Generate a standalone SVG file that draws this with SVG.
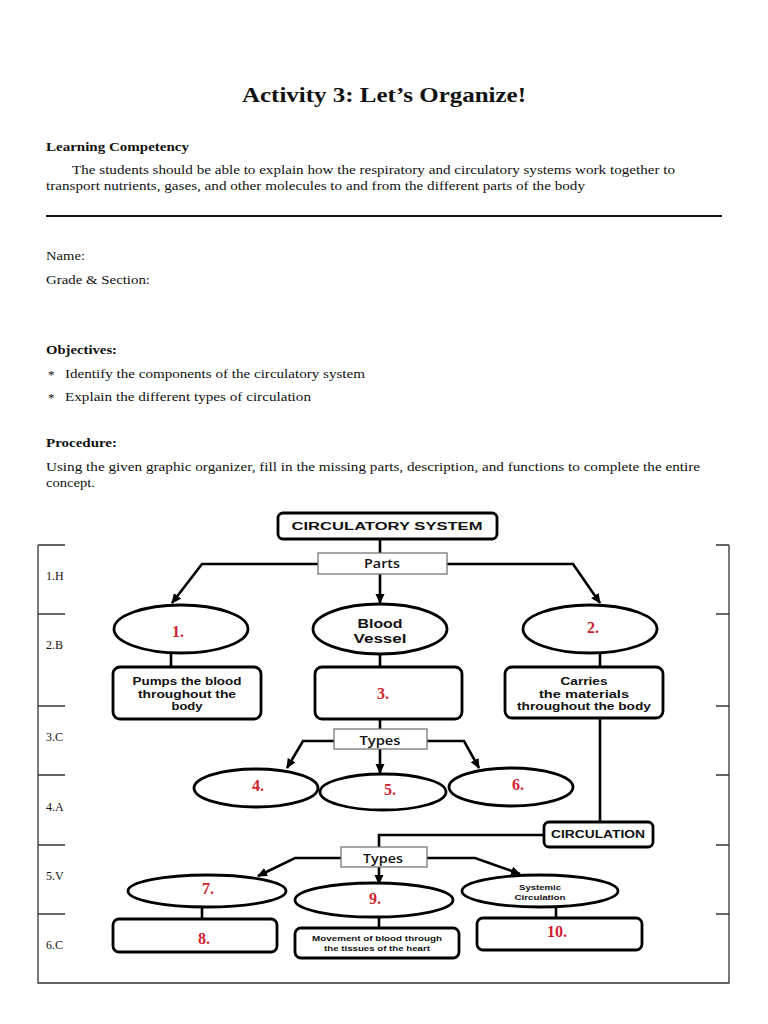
<svg xmlns="http://www.w3.org/2000/svg" width="768" height="1024" viewBox="0 0 768 1024">
<style>
.serif{font-family:"Liberation Serif","Times New Roman",serif;fill:#111}
.body{font-size:13px}
.b{font-weight:bold}
.sans{font-family:"Liberation Sans",Arial,sans-serif;fill:#111;font-weight:bold}
.lbl{font-family:"Open Sans","Liberation Sans",sans-serif;fill:#111;font-size:12px;font-weight:600}
.red{font-family:"Liberation Serif","Times New Roman",serif;fill:#d01f2e;font-weight:bold;font-size:16px}
.node{fill:#fff;stroke:#000;stroke-width:2.8}
.tag{fill:#fff;stroke:#777;stroke-width:1.3}
.conn{fill:none;stroke:#000;stroke-width:2.6}
.frame{fill:none;stroke:#333;stroke-width:1.3}
</style>
<defs>
<marker id="ah" markerUnits="userSpaceOnUse" markerWidth="10" markerHeight="10" viewBox="0 0 10 10" refX="9" refY="5" orient="auto">
<path d="M0,0.5 L10,5 L0,9.5 Z" fill="#000"/>
</marker>
</defs>
<rect x="0" y="0" width="768" height="1024" fill="#fff"/>

<g id="header">
<text class="serif b" x="384" y="102" font-size="21" text-anchor="middle" textLength="284" lengthAdjust="spacingAndGlyphs">Activity 3: Let’s Organize!</text>
<text class="serif body b" x="46" y="151" textLength="143" lengthAdjust="spacingAndGlyphs">Learning Competency</text>
<text class="serif body" x="72" y="174" textLength="603" lengthAdjust="spacingAndGlyphs">The students should be able to explain how the respiratory and circulatory systems work together to</text>
<text class="serif body" x="46" y="190" textLength="539" lengthAdjust="spacingAndGlyphs">transport nutrients, gases, and other molecules to and from the different parts of the body</text>
<line x1="46" y1="216" x2="722" y2="216" stroke="#111" stroke-width="2"/>
<text class="serif body" x="46" y="260" textLength="39" lengthAdjust="spacingAndGlyphs">Name:</text>
<text class="serif body" x="46" y="284" textLength="104" lengthAdjust="spacingAndGlyphs">Grade &amp; Section:</text>
<text class="serif body b" x="46" y="354" textLength="71" lengthAdjust="spacingAndGlyphs">Objectives:</text>
<text class="serif body" x="48" y="379" font-size="11">*</text>
<text class="serif body" x="65" y="378" textLength="300" lengthAdjust="spacingAndGlyphs">Identify the components of the circulatory system</text>
<text class="serif body" x="48" y="402" font-size="11">*</text>
<text class="serif body" x="65" y="401" textLength="246" lengthAdjust="spacingAndGlyphs">Explain the different types of circulation</text>
<text class="serif body b" x="46" y="447" textLength="71" lengthAdjust="spacingAndGlyphs">Procedure:</text>
<text class="serif body" x="46" y="471" textLength="654" lengthAdjust="spacingAndGlyphs">Using the given graphic organizer, fill in the missing parts, description, and functions to complete the entire</text>
<text class="serif body" x="46" y="487" textLength="49" lengthAdjust="spacingAndGlyphs">concept.</text>
</g>

<g id="frame">
<path class="frame" d="M38,545 L38,983 L729,983 L729,545"/>
<path class="frame" d="M38,545 H65 M38,614 H65 M38,706 H65 M38,775 H65 M38,845 H65 M38,914 H65"/>
<path class="frame" d="M716,545 H729 M716,614 H729 M716,706 H729 M716,775 H729 M716,845 H729 M716,914 H729"/>
<text class="serif" x="46" y="580" font-size="12">1.H</text>
<text class="serif" x="46" y="649" font-size="12">2.B</text>
<text class="serif" x="46" y="741" font-size="12">3.C</text>
<text class="serif" x="46" y="811" font-size="12">4.A</text>
<text class="serif" x="46" y="880" font-size="12">5.V</text>
<text class="serif" x="46" y="949" font-size="12">6.C</text>
</g>

<g id="connectors">
<path class="conn" d="M380,539 L380,553"/>
<path class="conn" d="M318,564 L202,564 L172,603" marker-end="url(#ah)"/>
<path class="conn" d="M380,574 L380,603" marker-end="url(#ah)"/>
<path class="conn" d="M447,564 L573,564 L600,603" marker-end="url(#ah)"/>
<path class="conn" d="M171,653 L171,667"/>
<path class="conn" d="M380,654 L380,667"/>
<path class="conn" d="M600,653 L600,667"/>
<path class="conn" d="M380,719 L380,729"/>
<path class="conn" d="M334,741 L303,741 L287,768" marker-end="url(#ah)"/>
<path class="conn" d="M380,749 L380,773" marker-end="url(#ah)"/>
<path class="conn" d="M427,741 L464,741 L479,768" marker-end="url(#ah)"/>
<path class="conn" d="M600,718 L600,822"/>
<path class="conn" d="M544,835 L379,835 L379,847"/>
<path class="conn" d="M341,858 L295,858 L258,876" marker-end="url(#ah)"/>
<path class="conn" d="M379,867 L379,884" marker-end="url(#ah)"/>
<path class="conn" d="M427,858 L475,858 L520,874" marker-end="url(#ah)"/>
<path class="conn" d="M202,907 L202,919"/>
<path class="conn" d="M379,917 L379,928"/>
<path class="conn" d="M556,907 L556,918"/>
</g>

<g id="circulatory-system">
<rect class="node" x="278" y="513" width="219" height="26" rx="5"/>
<text class="sans" x="387" y="530" font-size="11" text-anchor="middle" textLength="191" lengthAdjust="spacingAndGlyphs">CIRCULATORY SYSTEM</text>
</g>
<g id="parts">
<rect class="tag" x="318" y="553" width="129" height="21"/>
<text class="lbl" x="382" y="568" text-anchor="middle" textLength="36" lengthAdjust="spacingAndGlyphs">Parts</text>
</g>
<g id="n1">
<ellipse class="node" cx="181" cy="629" rx="67" ry="24"/>
<text class="red" x="178" y="637" text-anchor="middle">1.</text>
</g>
<g id="blood-vessel">
<ellipse class="node" cx="380" cy="629" rx="67" ry="25"/>
<text class="sans" x="380" y="628" font-size="12" text-anchor="middle" textLength="45" lengthAdjust="spacingAndGlyphs">Blood</text>
<text class="sans" x="380" y="643" font-size="12" text-anchor="middle" textLength="53" lengthAdjust="spacingAndGlyphs">Vessel</text>
</g>
<g id="n2">
<ellipse class="node" cx="590" cy="629" rx="67" ry="24"/>
<text class="red" x="593" y="633" text-anchor="middle">2.</text>
</g>
<g id="pumps">
<rect class="node" x="113" y="667" width="148" height="52" rx="7"/>
<text class="sans" x="187" y="685" font-size="10" text-anchor="middle" textLength="109" lengthAdjust="spacingAndGlyphs">Pumps the blood</text>
<text class="sans" x="187" y="698" font-size="10" text-anchor="middle" textLength="98" lengthAdjust="spacingAndGlyphs">throughout the</text>
<text class="sans" x="187" y="710" font-size="10" text-anchor="middle" textLength="31" lengthAdjust="spacingAndGlyphs">body</text>
</g>
<g id="n3">
<rect class="node" x="315" y="667" width="147" height="52" rx="7"/>
<text class="red" x="383" y="699" text-anchor="middle">3.</text>
</g>
<g id="carries">
<rect class="node" x="505" y="667" width="158" height="51" rx="7"/>
<text class="sans" x="584" y="685" font-size="10" text-anchor="middle" textLength="47" lengthAdjust="spacingAndGlyphs">Carries</text>
<text class="sans" x="584" y="698" font-size="10" text-anchor="middle" textLength="90" lengthAdjust="spacingAndGlyphs">the materials</text>
<text class="sans" x="584" y="710" font-size="10" text-anchor="middle" textLength="134" lengthAdjust="spacingAndGlyphs">throughout the body</text>
</g>
<g id="types1">
<rect class="tag" x="334" y="729" width="93" height="20"/>
<text class="lbl" x="380" y="745" text-anchor="middle" textLength="41" lengthAdjust="spacingAndGlyphs">Types</text>
</g>
<g id="n4">
<ellipse class="node" cx="256" cy="788" rx="62" ry="19"/>
<text class="red" x="258" y="791" text-anchor="middle">4.</text>
</g>
<g id="n5">
<ellipse class="node" cx="383" cy="792" rx="63" ry="18"/>
<text class="red" x="390" y="795" text-anchor="middle">5.</text>
</g>
<g id="n6">
<ellipse class="node" cx="511" cy="787" rx="62" ry="19"/>
<text class="red" x="518" y="790" text-anchor="middle">6.</text>
</g>
<g id="circulation">
<rect class="node" x="544" y="822" width="109" height="25" rx="5"/>
<text class="sans" x="598" y="838" font-size="10" text-anchor="middle" textLength="94" lengthAdjust="spacingAndGlyphs">CIRCULATION</text>
</g>
<g id="types2">
<rect class="tag" x="341" y="847" width="86" height="20"/>
<text class="lbl" x="383" y="863" text-anchor="middle" textLength="40" lengthAdjust="spacingAndGlyphs">Types</text>
</g>
<g id="n7">
<ellipse class="node" cx="207" cy="891" rx="79" ry="16"/>
<text class="red" x="208" y="894" text-anchor="middle">7.</text>
</g>
<g id="n9">
<ellipse class="node" cx="374" cy="900" rx="79" ry="17"/>
<text class="red" x="375" y="904" text-anchor="middle">9.</text>
</g>
<g id="systemic">
<ellipse class="node" cx="540" cy="891" rx="78" ry="16"/>
<text class="sans" x="540" y="890" font-size="8" font-weight="normal" text-anchor="middle" textLength="42" lengthAdjust="spacingAndGlyphs">Systemic</text>
<text class="sans" x="540" y="900" font-size="8" font-weight="normal" text-anchor="middle" textLength="51" lengthAdjust="spacingAndGlyphs">Circulation</text>
</g>
<g id="n8">
<rect class="node" x="113" y="919" width="164" height="33" rx="6"/>
<text class="red" x="204" y="944" text-anchor="middle">8.</text>
</g>
<g id="movement">
<rect class="node" x="295" y="928" width="164" height="30" rx="6"/>
<text class="sans" x="377" y="941" font-size="7.5" text-anchor="middle" textLength="130" lengthAdjust="spacingAndGlyphs">Movement of blood through</text>
<text class="sans" x="377" y="951" font-size="7.5" text-anchor="middle" textLength="106" lengthAdjust="spacingAndGlyphs">the tissues of the heart</text>
</g>
<g id="n10">
<rect class="node" x="477" y="918" width="165" height="32" rx="6"/>
<text class="red" x="557" y="937" text-anchor="middle">10.</text>
</g>
</svg>
